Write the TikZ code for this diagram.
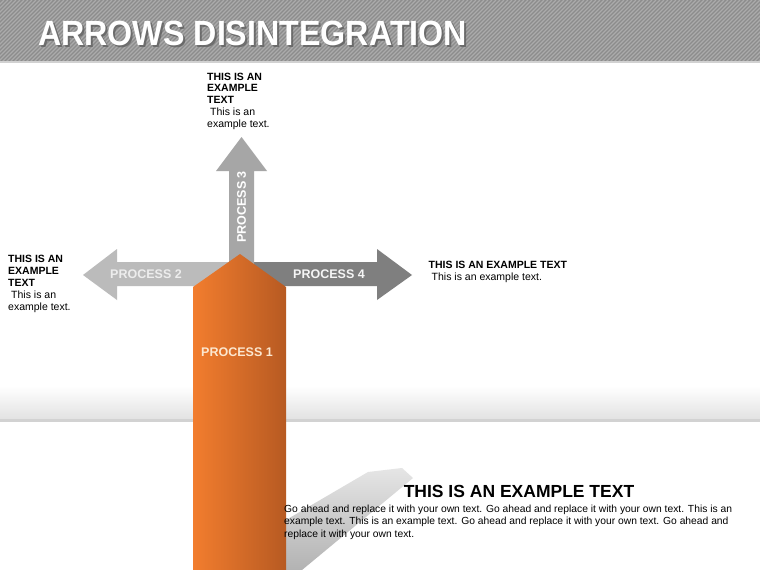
\documentclass[tikz,border=0pt]{standalone}
\usepackage{fontspec}
\setmainfont{Liberation Sans}
\definecolor{hdrbase}{HTML}{8C8C8C}
\definecolor{hdrstripe}{HTML}{ABABAB}
\definecolor{ptwo}{HTML}{BBBBBB}
\definecolor{pthree}{HTML}{A6A6A6}
\definecolor{pfour}{HTML}{7F7F7F}
\definecolor{orL}{HTML}{F27D2E}
\definecolor{orR}{HTML}{B75A22}
\definecolor{cream}{HTML}{FCE7CF}
\definecolor{floor}{HTML}{E2E2E2}
\definecolor{floorline}{HTML}{D2D2D2}
\tikzset{
  small/.style={font=\fontsize{10.5}{11.9}\selectfont, align=left, inner sep=0pt, anchor=north west, text=black},
  plabel/.style={font=\fontsize{12.5}{13}\selectfont\bfseries, inner sep=0pt},
}
\begin{document}
\begin{tikzpicture}[x=1pt,y=-1pt]
\useasboundingbox (0,0) rectangle (760,570);
\fill[white] (0,0) rectangle (760,570);
% header
\fill[hdrbase] (0,0) rectangle (760,62);
\begin{scope}
\clip (0,0) rectangle (760,62);
\foreach \i in {-66,-62,...,760} \draw[hdrstripe, line width=1.2pt] (\i,62) -- ++(62,-62);
\end{scope}
\fill[white!82!black] (0,60.5) rectangle (760,62.5);
\node[anchor=base west, inner sep=0pt, xscale=0.92, font=\fontsize{35}{35}\selectfont\bfseries, text=black!65, opacity=0.7] (titleshadow) at (40,47) {ARROWS DISINTEGRATION};
\node[anchor=base west, inner sep=0pt, xscale=0.92, font=\fontsize{35}{35}\selectfont\bfseries, text=white] (title) at (38,45) {ARROWS DISINTEGRATION};
% floor
\shade[top color=white, bottom color=floor] (0,386) rectangle (760,419);
\fill[floorline] (0,419) rectangle (760,421.5);
% shadow of the arrow
\shade[top color=black!10, bottom color=black!30] (286,520) -- (368,472) -- (402,468) -- (413,478) -- (302,570) -- (286,570) -- cycle;
% process 2 (left)
\fill[ptwo] (83,275) -- (117,249) -- (117,262) -- (242,262) -- (242,286) -- (117,286) -- (117,300) -- cycle;
% process 4 (right)
\fill[pfour] (254,262) -- (377,262) -- (377,249) -- (412,275) -- (377,300) -- (377,286) -- (254,286) -- cycle;
% process 3 (up)
\fill[pthree] (229,264) -- (229,171) -- (216,171) -- (241.5,137) -- (267,171) -- (254,171) -- (254,264) -- cycle;
% process 1 (orange)
\shade[left color=orL, right color=orR] (193,570) -- (193,287) -- (240,254) -- (286,287) -- (286,570) -- cycle;
% labels
\node[plabel, text=white!93!black] (p2) at (146,274.5) {PROCESS 2};
\node[plabel, text=white!96!black] (p4) at (329,274.5) {PROCESS 4};
\node[plabel, text=white, rotate=90] (p3) at (241.5,207) {PROCESS 3};
\node[plabel, text=cream] (p1) at (237,352.5) {PROCESS 1};
% texts
\node[small] (ttop) at (207,72.5) {\textbf{THIS IS AN}\\\textbf{EXAMPLE}\\\textbf{TEXT}\\\hspace*{3pt}This is an\\example text.};
\node[small] (tleft) at (8,255) {\textbf{THIS IS AN}\\\textbf{EXAMPLE}\\\textbf{TEXT}\\\hspace*{3pt}This is an\\example text.};
\node[small] (tright) at (428.5,261) {\textbf{THIS IS AN EXAMPLE TEXT}\\\hspace*{3pt}This is an example text.};
\node[anchor=base, inner sep=0pt, font=\fontsize{17.5}{18}\selectfont\bfseries] (bhead) at (519,497) {THIS IS AN EXAMPLE TEXT};
\node[small, font=\fontsize{10.3}{12.8}\selectfont] (bpara) at (284,504.5) {Go ahead and replace it with your own text. Go ahead and replace it with your own text. This is an\\example text. This is an example text. Go ahead and replace it with your own text. Go ahead and\\replace it with your own text.};
\end{tikzpicture}
\end{document}
